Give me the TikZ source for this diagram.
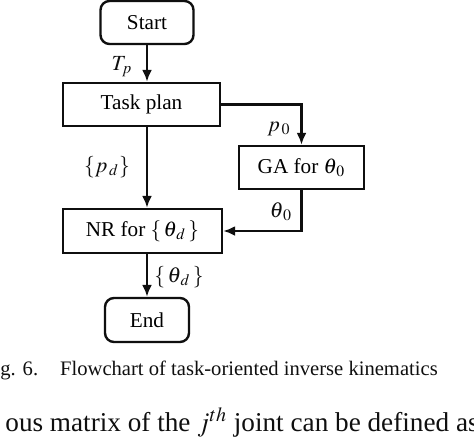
\documentclass[tikz,border=0pt]{standalone}
\usepackage{mathptmx}
\usepackage[no-math]{fontspec}
\setmainfont{Liberation Serif}
\usetikzlibrary{arrows.meta, calc}
\definecolor{inkcol}{RGB}{15,15,15}
\tikzset{
  stepbox/.style={draw=inkcol, line width=1.2pt, minimum height=21.5pt,
    inner sep=1pt, font=\fontsize{10.6}{12}\selectfont},
  termbox/.style={stepbox, rounded corners=4.5pt},
  flow/.style={draw=inkcol, line width=1.2pt, -{Latex[length=6pt, width=5pt]}},
  lbl/.style={inkcol, font=\fontsize{10.8}{12}\selectfont}
}

\begin{document}
\begin{tikzpicture}[x=0.5pt, y=-0.5pt]

  % --- page area, 1 unit = 1 pixel of the reference ----------------------
  \useasboundingbox (0,0) rectangle (474,438);
  \clip (0,0) rectangle (474,438);
  \fill[white] (0,0) rectangle (474,438);

  % --- blocks of the flowchart -------------------------------------------
  \node[termbox, minimum width=46.5pt] (Start) at (147,22.5) {Start};
  \node[stepbox, minimum width=78.5pt] (Plan) at (141.5,104.5) {Task plan};
  \node[stepbox, minimum width=62.5pt] (GA) at (301.5,167.5) {GA for $\theta_{\,0}$};
  \node[stepbox, minimum width=79.5pt, minimum height=22pt] (NR) at (142.5,231) {NR for $\{\,\theta_{\,d}\,\}$};
  \node[termbox, minimum width=42pt, minimum height=22pt] (Finish) at (147,320) {End};

  % --- connectors ---------------------------------------------------------
  \draw[flow] (Start) -- (Start |- Plan.north);
  \draw[flow] (Start |- Plan.south) -- (Start |- NR.north);
  \draw[flow] (Plan.east) -| (GA.north);
  \draw[flow] (GA.south) |- (NR.east);
  \draw[flow] (Start |- NR.south) -- (Finish);

  % --- signal labels ------------------------------------------------------
  \node[lbl] (LblTp) at (122,67) {$T_p$};
  \node[lbl] (LblPz) at (279,129) {$p_{\,0}$};
  \node[lbl] (LblPd) at (107,167) {$\{p_{\,d}\}$};
  \node[lbl] (LblTz) at (281,212) {$\theta_{\,0}$};
  \node[lbl] (LblTd) at (179,277) {$\{\,\theta_{\,d}\,\}$};

  % --- caption and running text below the figure --------------------------
  \node[inkcol, anchor=base west, inner sep=0pt, font=\fontsize{10.3}{12}\selectfont]
    (Caption) at (0,375) {g. 6.\hspace*{11pt}Flowchart of task-oriented inverse kinematics};
  \node[inkcol, anchor=base west, inner sep=0pt, font=\fontsize{13.6}{16}\selectfont]
    (Body) at (5,431) {ous matrix of the $j^{th}$ joint can be defined as};

\end{tikzpicture}
\end{document}
